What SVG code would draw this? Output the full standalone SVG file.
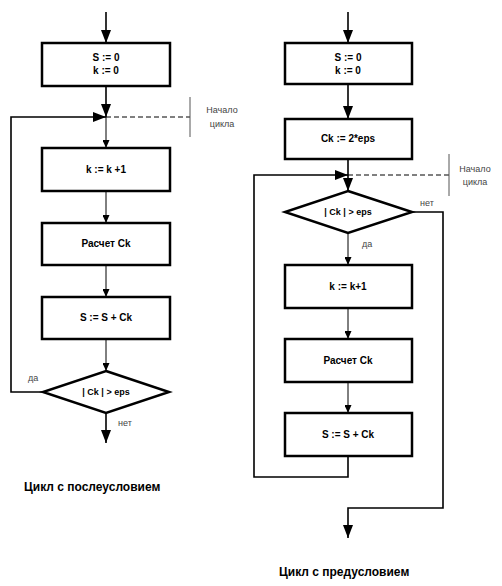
<svg xmlns="http://www.w3.org/2000/svg" width="502" height="586" viewBox="0 0 502 586">
<style>
.box{fill:#fff;stroke:#000;stroke-width:2.5}
.t{font-family:"Liberation Sans",Arial,sans-serif;font-size:10px;font-weight:bold;text-anchor:middle;fill:#000}
.n{font-family:"Liberation Sans",Arial,sans-serif;font-size:9px;fill:#444}
.title{font-family:"Liberation Sans",Arial,sans-serif;font-size:12px;font-weight:bold;fill:#000}
.thick{fill:none;stroke:#000;stroke-width:1.6}
.thin{fill:none;stroke:#000;stroke-width:1}
.dash{fill:none;stroke:#000;stroke-width:1;stroke-dasharray:5,3}
.gray{fill:none;stroke:#555;stroke-width:1}
</style>
<defs>
<marker id="big" markerUnits="userSpaceOnUse" markerWidth="14" markerHeight="10" refX="13" refY="5" orient="auto"><path d="M0,0 L13,5 L0,10 Z" fill="#000"/></marker>
<marker id="small" markerUnits="userSpaceOnUse" markerWidth="9" markerHeight="7" refX="8" refY="3.5" orient="auto"><path d="M0,0 L8,3.5 L0,7 Z" fill="#000"/></marker>
</defs>
<g id="connectors">
<path class="thick" d="M106,12 V43" marker-end="url(#big)"/>
<path class="thick" d="M106,86 V117" marker-end="url(#big)"/>
<path class="thin" d="M106,117 V148" marker-end="url(#small)"/>
<path class="thin" d="M106,191 V223" marker-end="url(#small)"/>
<path class="thin" d="M106,265 V297" marker-end="url(#small)"/>
<path class="thin" d="M106,339 V371" marker-end="url(#small)"/>
<path class="thick" d="M43,392 H11 V117 H106" marker-end="url(#big)"/>
<path class="thick" d="M106,413 V443" marker-end="url(#big)"/>
<path class="dash" d="M106,117 H190"/>
<path class="gray" d="M190,97 V137"/>
<path class="thick" d="M348,12 V43" marker-end="url(#big)"/>
<path class="thick" d="M348,84 V119" marker-end="url(#big)"/>
<path class="thick" d="M348,159 V191" marker-end="url(#big)"/>
<path class="thin" d="M348,233 V265" marker-end="url(#small)"/>
<path class="thin" d="M348,308 V339" marker-end="url(#small)"/>
<path class="thin" d="M348,382 V413" marker-end="url(#small)"/>
<path class="thick" d="M348,456 V477 H254 V175 H348" marker-end="url(#big)"/>
<path class="thick" d="M412,212 H443 V508 H348 V538" marker-end="url(#big)"/>
<path class="dash" d="M348,175 H449"/>
<path class="gray" d="M449,154 V196"/>
</g>
<g id="left-init"><rect class="box" x="42" y="43" width="128" height="43"/><text class="t" x="106" y="61">S := 0</text><text class="t" x="106" y="74">k := 0</text></g>
<g id="left-loopstart"><text class="n" x="222" y="113" text-anchor="middle">Начало</text><text class="n" x="222" y="127" text-anchor="middle">цикла</text></g>
<g id="left-inc"><rect class="box" x="42" y="148" width="128" height="43"/><text class="t" x="106" y="173">k := k +1</text></g>
<g id="left-calc"><rect class="box" x="42" y="223" width="128" height="42"/><text class="t" x="106" y="247">Расчет Ck</text></g>
<g id="left-sum"><rect class="box" x="42" y="297" width="128" height="42"/><text class="t" x="106" y="321">S := S + Ck</text></g>
<g id="left-cond"><polygon class="box" points="106,371 169,392 106,413 43,392"/><text class="t" x="106" y="395" style="font-size:9px">| Ck | &gt; eps</text><text class="n" x="28" y="381">да</text><text class="n" x="118" y="426">нет</text></g>
<text id="left-title" class="title" x="24" y="491">Цикл с послеусловием</text>
<g id="right-init"><rect class="box" x="285" y="43" width="127" height="41"/><text class="t" x="348" y="61">S := 0</text><text class="t" x="348" y="74">k := 0</text></g>
<g id="right-ck"><rect class="box" x="285" y="119" width="127" height="40"/><text class="t" x="348" y="142">Ck := 2*eps</text></g>
<g id="right-loopstart"><text class="n" x="475" y="172" text-anchor="middle">Начало</text><text class="n" x="475" y="185" text-anchor="middle">цикла</text></g>
<g id="right-cond"><polygon class="box" points="348,191 412,212 348,233 285,212"/><text class="t" x="348" y="215" style="font-size:9px">| Ck | &gt; eps</text><text class="n" x="420" y="206">нет</text><text class="n" x="362" y="247">да</text></g>
<g id="right-inc"><rect class="box" x="285" y="265" width="127" height="43"/><text class="t" x="348" y="290">k := k+1</text></g>
<g id="right-calc"><rect class="box" x="285" y="339" width="127" height="43"/><text class="t" x="348" y="364">Расчет Ck</text></g>
<g id="right-sum"><rect class="box" x="285" y="413" width="127" height="43"/><text class="t" x="348" y="438">S := S + Ck</text></g>
<text id="right-title" class="title" x="279" y="576">Цикл с предусловием</text>
</svg>
